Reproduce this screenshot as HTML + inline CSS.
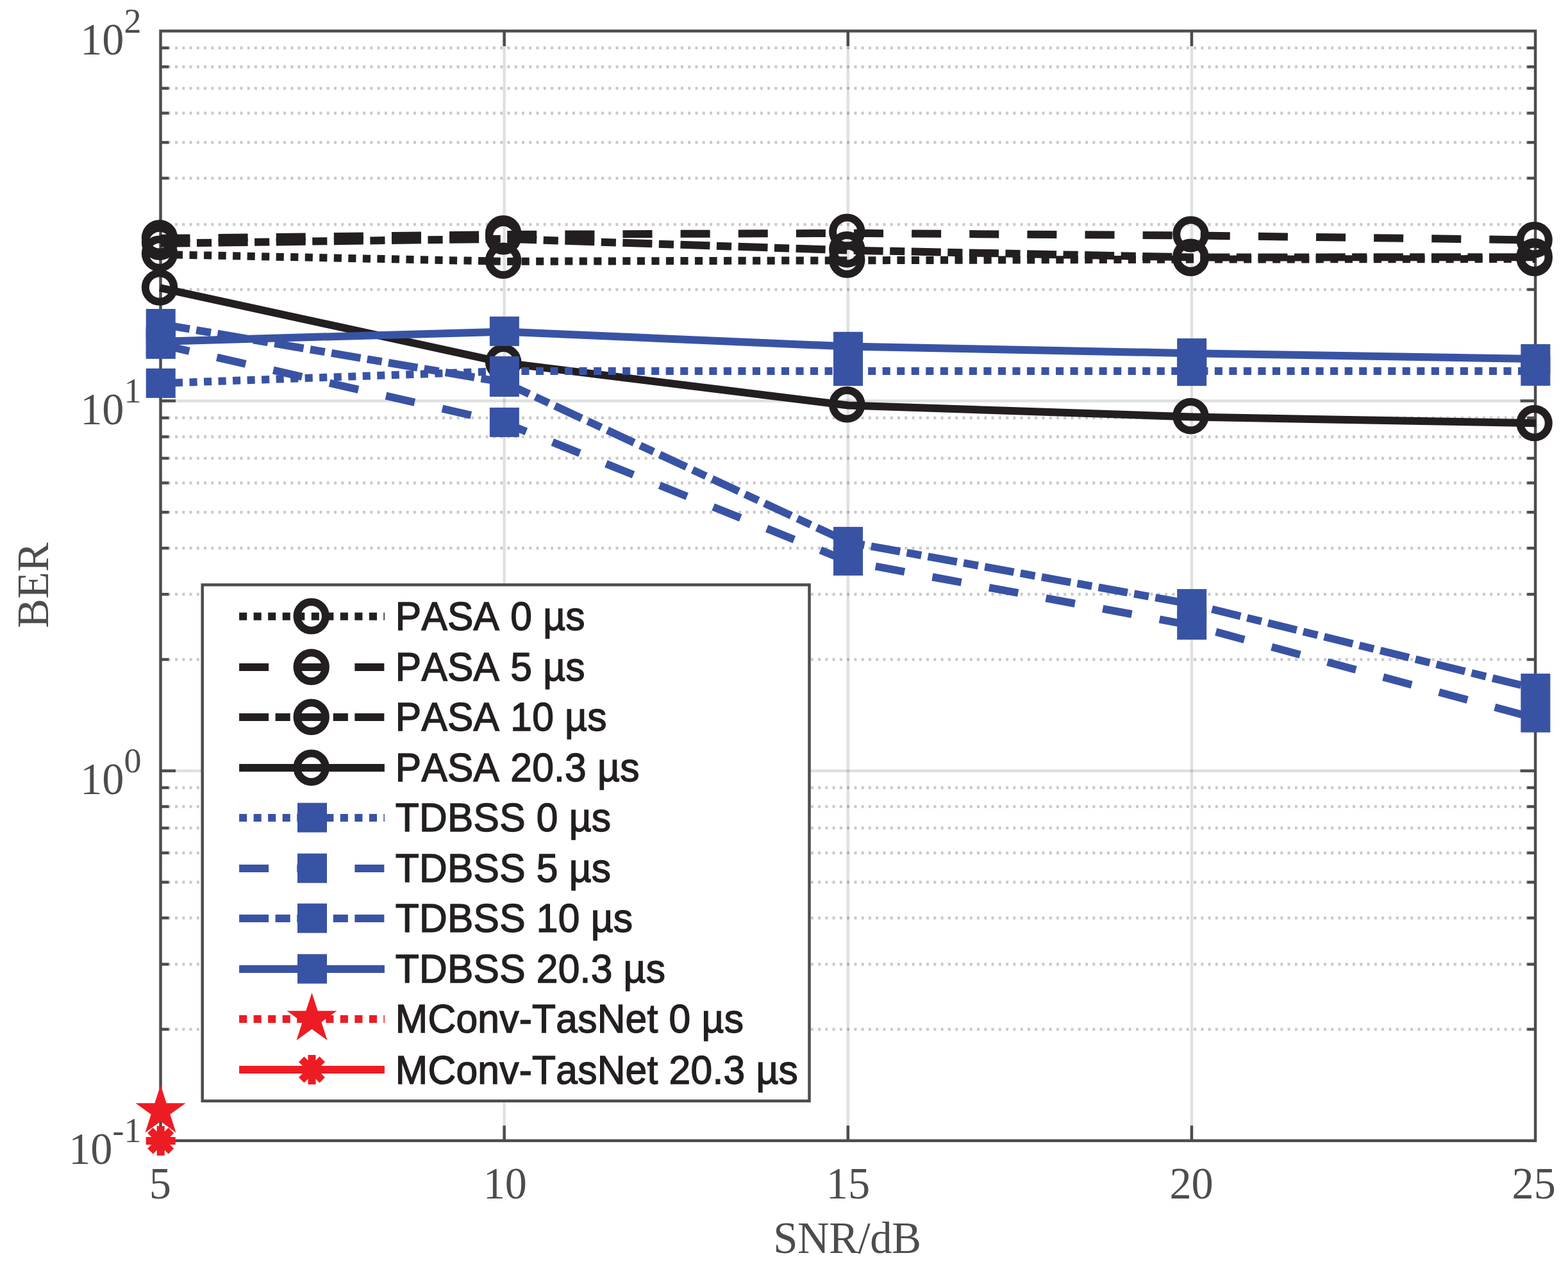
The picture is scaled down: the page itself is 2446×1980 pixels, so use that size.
<!DOCTYPE html>
<html lang="en">
<head>
<meta charset="utf-8">
<title>BER vs SNR</title>
<style>html,body{margin:0;padding:0;background:#fff;width:2446px;height:1980px}svg{display:block}</style>
</head>
<body>
<svg width="2446" height="1980" viewBox="0 0 2446 1980" role="img" aria-label="BER versus SNR/dB">
<rect x="0" y="0" width="2446" height="1980" fill="#ffffff"/>
<g fill="none" stroke="#282c32" stroke-opacity="0.15" stroke-width="4.5">
<path d="M786.65 48.40V1779.80"/>
<path d="M1322.80 48.40V1779.80"/>
<path d="M1858.95 48.40V1779.80"/>
<path d="M250.50 625.53H2395.10"/>
<path d="M250.50 1202.67H2395.10"/>
</g>
<g fill="none" stroke="#1c1c24" stroke-opacity="0.24" stroke-width="4.5" stroke-dasharray="4 7.27">
<path d="M250.50 451.80H2395.10"/>
<path d="M250.50 350.17H2395.10"/>
<path d="M250.50 278.06H2395.10"/>
<path d="M250.50 222.13H2395.10"/>
<path d="M250.50 176.44H2395.10"/>
<path d="M250.50 137.80H2395.10"/>
<path d="M250.50 104.33H2395.10"/>
<path d="M250.50 74.81H2395.10"/>
<path d="M250.50 1028.93H2395.10"/>
<path d="M250.50 927.30H2395.10"/>
<path d="M250.50 855.20H2395.10"/>
<path d="M250.50 799.27H2395.10"/>
<path d="M250.50 753.57H2395.10"/>
<path d="M250.50 714.93H2395.10"/>
<path d="M250.50 681.46H2395.10"/>
<path d="M250.50 651.94H2395.10"/>
<path d="M250.50 1606.07H2395.10"/>
<path d="M250.50 1504.44H2395.10"/>
<path d="M250.50 1432.33H2395.10"/>
<path d="M250.50 1376.40H2395.10"/>
<path d="M250.50 1330.70H2395.10"/>
<path d="M250.50 1292.07H2395.10"/>
<path d="M250.50 1258.60H2395.10"/>
<path d="M250.50 1229.07H2395.10"/>
</g>
<g fill="none" stroke="#4d4d4f" stroke-width="4.5">
<path d="M786.65 1779.80v-23.5M786.65 48.40v23.5"/>
<path d="M1322.80 1779.80v-23.5M1322.80 48.40v23.5"/>
<path d="M1858.95 1779.80v-23.5M1858.95 48.40v23.5"/>
<path d="M250.50 625.53h23.5M2395.10 625.53h-23.5"/>
<path d="M250.50 1202.67h23.5M2395.10 1202.67h-23.5"/>
<path d="M250.50 451.80h12.9M2395.10 451.80h-12.9"/>
<path d="M250.50 350.17h12.9M2395.10 350.17h-12.9"/>
<path d="M250.50 278.06h12.9M2395.10 278.06h-12.9"/>
<path d="M250.50 222.13h12.9M2395.10 222.13h-12.9"/>
<path d="M250.50 176.44h12.9M2395.10 176.44h-12.9"/>
<path d="M250.50 137.80h12.9M2395.10 137.80h-12.9"/>
<path d="M250.50 104.33h12.9M2395.10 104.33h-12.9"/>
<path d="M250.50 74.81h12.9M2395.10 74.81h-12.9"/>
<path d="M250.50 1028.93h12.9M2395.10 1028.93h-12.9"/>
<path d="M250.50 927.30h12.9M2395.10 927.30h-12.9"/>
<path d="M250.50 855.20h12.9M2395.10 855.20h-12.9"/>
<path d="M250.50 799.27h12.9M2395.10 799.27h-12.9"/>
<path d="M250.50 753.57h12.9M2395.10 753.57h-12.9"/>
<path d="M250.50 714.93h12.9M2395.10 714.93h-12.9"/>
<path d="M250.50 681.46h12.9M2395.10 681.46h-12.9"/>
<path d="M250.50 651.94h12.9M2395.10 651.94h-12.9"/>
<path d="M250.50 1606.07h12.9M2395.10 1606.07h-12.9"/>
<path d="M250.50 1504.44h12.9M2395.10 1504.44h-12.9"/>
<path d="M250.50 1432.33h12.9M2395.10 1432.33h-12.9"/>
<path d="M250.50 1376.40h12.9M2395.10 1376.40h-12.9"/>
<path d="M250.50 1330.70h12.9M2395.10 1330.70h-12.9"/>
<path d="M250.50 1292.07h12.9M2395.10 1292.07h-12.9"/>
<path d="M250.50 1258.60h12.9M2395.10 1258.60h-12.9"/>
<path d="M250.50 1229.07h12.9M2395.10 1229.07h-12.9"/>
<rect x="250.50" y="48.40" width="2144.60" height="1731.40"/>
</g>
<path d="M250.50 397.00L786.65 407.90L1322.80 406.30L1858.95 404.60L2395.10 404.00" fill="none" stroke="#231f20" stroke-width="12.0" stroke-linejoin="round" stroke-dasharray="12.1 10.43"/>
<path d="M250.50 371.90L786.65 366.00L1322.80 363.80L1858.95 367.40L2395.10 374.50" fill="none" stroke="#231f20" stroke-width="12.0" stroke-linejoin="round" stroke-dasharray="46 44.13"/>
<path d="M250.50 379.80L786.65 372.60L1322.80 390.50L1858.95 401.50L2395.10 401.20" fill="none" stroke="#231f20" stroke-width="12.0" stroke-linejoin="round" stroke-dasharray="46 10.5 23.13 10.5"/>
<path d="M249.40 449.06L786.65 566.10L1322.80 632.50L1858.95 650.50L2396.20 660.32" fill="none" stroke="#231f20" stroke-width="12.0" stroke-linejoin="round"/>
<circle cx="249.00" cy="395.60" r="22.2" fill="none" stroke="#231f20" stroke-width="12.0"/>
<circle cx="785.15" cy="406.70" r="22.2" fill="none" stroke="#231f20" stroke-width="12.0"/>
<circle cx="1321.30" cy="405.50" r="22.2" fill="none" stroke="#231f20" stroke-width="12.0"/>
<circle cx="1857.45" cy="402.90" r="22.2" fill="none" stroke="#231f20" stroke-width="12.0"/>
<circle cx="2393.60" cy="402.80" r="22.2" fill="none" stroke="#231f20" stroke-width="12.0"/>
<circle cx="249.00" cy="371.20" r="22.2" fill="none" stroke="#231f20" stroke-width="12.0"/>
<circle cx="785.15" cy="364.20" r="22.2" fill="none" stroke="#231f20" stroke-width="12.0"/>
<circle cx="1321.30" cy="361.60" r="22.2" fill="none" stroke="#231f20" stroke-width="12.0"/>
<circle cx="1857.45" cy="365.40" r="22.2" fill="none" stroke="#231f20" stroke-width="12.0"/>
<circle cx="2393.60" cy="374.20" r="22.2" fill="none" stroke="#231f20" stroke-width="12.0"/>
<circle cx="249.00" cy="377.90" r="22.2" fill="none" stroke="#231f20" stroke-width="12.0"/>
<circle cx="785.15" cy="369.30" r="22.2" fill="none" stroke="#231f20" stroke-width="12.0"/>
<circle cx="1321.30" cy="389.20" r="22.2" fill="none" stroke="#231f20" stroke-width="12.0"/>
<circle cx="1857.45" cy="400.60" r="22.2" fill="none" stroke="#231f20" stroke-width="12.0"/>
<circle cx="2393.60" cy="399.90" r="22.2" fill="none" stroke="#231f20" stroke-width="12.0"/>
<circle cx="249.00" cy="448.50" r="22.2" fill="none" stroke="#231f20" stroke-width="12.0"/>
<circle cx="785.15" cy="565.30" r="22.2" fill="none" stroke="#231f20" stroke-width="12.0"/>
<circle cx="1321.30" cy="631.30" r="22.2" fill="none" stroke="#231f20" stroke-width="12.0"/>
<circle cx="1857.45" cy="649.30" r="22.2" fill="none" stroke="#231f20" stroke-width="12.0"/>
<circle cx="2393.60" cy="660.20" r="22.2" fill="none" stroke="#231f20" stroke-width="12.0"/>
<path d="M250.50 598.00L786.65 579.00L1322.80 579.05L1858.95 579.05L2395.10 579.10" fill="none" stroke="#3953a4" stroke-width="12.0" stroke-linejoin="round" stroke-dasharray="12.1 10.43"/>
<path d="M250.50 537.60L786.65 659.60L1322.80 875.70L1858.95 975.70L2395.10 1120.60" fill="none" stroke="#3953a4" stroke-width="12.0" stroke-linejoin="round" stroke-dasharray="46 44.13"/>
<path d="M250.50 505.70L786.65 596.60L1322.80 845.80L1858.95 942.70L2395.10 1074.50" fill="none" stroke="#3953a4" stroke-width="12.0" stroke-linejoin="round" stroke-dasharray="46 10.5 23.13 10.5"/>
<path d="M249.40 532.78L786.65 517.50L1322.80 540.60L1858.95 551.20L2396.20 560.02" fill="none" stroke="#3953a4" stroke-width="12.0" stroke-linejoin="round"/>
<rect x="227.75" y="574.90" width="46.0" height="46.0" fill="#3953a4"/>
<rect x="763.90" y="555.90" width="46.0" height="46.0" fill="#3953a4"/>
<rect x="1300.05" y="556.10" width="46.0" height="46.0" fill="#3953a4"/>
<rect x="1836.20" y="556.10" width="46.0" height="46.0" fill="#3953a4"/>
<rect x="2372.35" y="555.90" width="46.0" height="46.0" fill="#3953a4"/>
<rect x="227.75" y="513.90" width="46.0" height="46.0" fill="#3953a4"/>
<rect x="763.90" y="635.95" width="46.0" height="46.0" fill="#3953a4"/>
<rect x="1300.05" y="852.05" width="46.0" height="46.0" fill="#3953a4"/>
<rect x="1836.20" y="952.05" width="46.0" height="46.0" fill="#3953a4"/>
<rect x="2372.35" y="1096.75" width="46.0" height="46.0" fill="#3953a4"/>
<rect x="227.75" y="482.00" width="46.0" height="46.0" fill="#3953a4"/>
<rect x="763.90" y="573.00" width="46.0" height="46.0" fill="#3953a4"/>
<rect x="1300.05" y="822.10" width="46.0" height="46.0" fill="#3953a4"/>
<rect x="1836.20" y="919.10" width="46.0" height="46.0" fill="#3953a4"/>
<rect x="2372.35" y="1051.05" width="46.0" height="46.0" fill="#3953a4"/>
<rect x="227.75" y="509.00" width="46.0" height="46.0" fill="#3953a4"/>
<rect x="763.90" y="493.90" width="46.0" height="46.0" fill="#3953a4"/>
<rect x="1300.05" y="517.80" width="46.0" height="46.0" fill="#3953a4"/>
<rect x="1836.20" y="528.00" width="46.0" height="46.0" fill="#3953a4"/>
<rect x="2372.35" y="537.00" width="46.0" height="46.0" fill="#3953a4"/>
<polygon points="250.50,1693.00 259.70,1721.33 289.49,1721.33 265.39,1738.84 274.60,1767.17 250.50,1749.66 226.40,1767.17 235.61,1738.84 211.51,1721.33 241.30,1721.33" fill="#ed1c24"/>
<path d="M250.70 1757.00V1803.00M227.70 1780.00H273.70M234.44 1763.74L266.96 1796.26M234.44 1796.26L266.96 1763.74" fill="none" stroke="#ed1c24" stroke-width="12.0"/>
<rect x="315.7" y="912.5" width="946.80" height="805.30" fill="#ffffff" stroke="#4d4d4f" stroke-width="4.5"/>
<path d="M373.1 961.80H599.9" fill="none" stroke="#231f20" stroke-width="12.0" stroke-dasharray="12.1 10.43"/>
<circle cx="485.70" cy="961.50" r="22.2" fill="none" stroke="#231f20" stroke-width="12.0"/>
<path d="M373.1 1041.00H599.9" fill="none" stroke="#231f20" stroke-width="12.0" stroke-dasharray="46 44.13"/>
<circle cx="485.70" cy="1040.70" r="22.2" fill="none" stroke="#231f20" stroke-width="12.0"/>
<path d="M373.1 1119.00H599.9" fill="none" stroke="#231f20" stroke-width="12.0" stroke-dasharray="46 10.5 23.13 10.5"/>
<circle cx="485.70" cy="1118.70" r="22.2" fill="none" stroke="#231f20" stroke-width="12.0"/>
<path d="M373.1 1198.00H599.9" fill="none" stroke="#231f20" stroke-width="12.0"/>
<circle cx="485.70" cy="1197.70" r="22.2" fill="none" stroke="#231f20" stroke-width="12.0"/>
<path d="M373.1 1276.00H599.9" fill="none" stroke="#3953a4" stroke-width="12.0" stroke-dasharray="12.1 10.43"/>
<rect x="464.00" y="1252.70" width="46.0" height="46.0" fill="#3953a4"/>
<path d="M373.1 1355.00H599.9" fill="none" stroke="#3953a4" stroke-width="12.0" stroke-dasharray="46 44.13"/>
<rect x="464.00" y="1331.70" width="46.0" height="46.0" fill="#3953a4"/>
<path d="M373.1 1433.00H599.9" fill="none" stroke="#3953a4" stroke-width="12.0" stroke-dasharray="46 10.5 23.13 10.5"/>
<rect x="464.00" y="1409.70" width="46.0" height="46.0" fill="#3953a4"/>
<path d="M373.1 1512.00H599.9" fill="none" stroke="#3953a4" stroke-width="12.0"/>
<rect x="464.00" y="1488.70" width="46.0" height="46.0" fill="#3953a4"/>
<path d="M373.1 1590.00H599.9" fill="none" stroke="#ed1c24" stroke-width="12.0" stroke-dasharray="12.1 10.43"/>
<polygon points="486.50,1549.00 495.70,1577.33 525.49,1577.33 501.39,1594.84 510.60,1623.17 486.50,1605.66 462.40,1623.17 471.61,1594.84 447.51,1577.33 477.30,1577.33" fill="#ed1c24"/>
<path d="M373.1 1669.10H599.9" fill="none" stroke="#ed1c24" stroke-width="12.0"/>
<path d="M486.50 1646.10V1692.10M470.24 1652.84L502.76 1685.36M470.24 1685.36L502.76 1652.84" fill="none" stroke="#ed1c24" stroke-width="12.0"/>
<g font-family="'Liberation Sans', Arial, Helvetica, sans-serif" font-size="60.5" fill="#231f20" stroke="#231f20" stroke-width="1.4" letter-spacing="0.25" style="font-kerning:none">
<text transform="translate(616.8 983.20) scale(1 1.04)">PASA 0 µs</text>
<text transform="translate(616.8 1062.40) scale(1 1.04)">PASA 5 µs</text>
<text transform="translate(616.8 1140.40) scale(1 1.04)">PASA 10 µs</text>
<text transform="translate(616.8 1219.40) scale(1 1.04)">PASA 20.3 µs</text>
<text transform="translate(616.8 1297.40) scale(1 1.04)">TDBSS 0 µs</text>
<text transform="translate(616.8 1376.40) scale(1 1.04)">TDBSS 5 µs</text>
<text transform="translate(616.8 1454.40) scale(1 1.04)">TDBSS 10 µs</text>
<text transform="translate(616.8 1533.40) scale(1 1.04)">TDBSS 20.3 µs</text>
<text transform="translate(616.8 1611.40) scale(1 1.04)">MConv-TasNet 0 µs</text>
<text transform="translate(616.8 1690.50) scale(1 1.04)">MConv-TasNet 20.3 µs</text>
</g>
<g font-family="'Liberation Serif', 'Times New Roman', Times, serif" font-size="68.3" fill="#4d4d4f" stroke="#4d4d4f" stroke-width="0" style="font-kerning:none">
<text transform="translate(249.90 1870.0) scale(1 1.02)" text-anchor="middle">5</text>
<text transform="translate(787.85 1870.0) scale(1 1.02)" text-anchor="middle">10</text>
<text transform="translate(1323.00 1870.0) scale(1 1.02)" text-anchor="middle">15</text>
<text transform="translate(1858.55 1870.0) scale(1 1.02)" text-anchor="middle">20</text>
<text transform="translate(2392.70 1870.0) scale(1 1.02)" text-anchor="middle">25</text>
<text transform="translate(220.5 85.00) scale(1 1.02)" text-anchor="end">10<tspan font-size="54.0" dy="-33.6">2</tspan></text>
<text transform="translate(220.5 662.13) scale(1 1.02)" text-anchor="end">10<tspan font-size="54.0" dy="-33.6">1</tspan></text>
<text transform="translate(220.5 1239.27) scale(1 1.02)" text-anchor="end">10<tspan font-size="54.0" dy="-33.6">0</tspan></text>
<text transform="translate(220.5 1816.40) scale(1 1.02)" text-anchor="end">10<tspan font-size="54.0" dy="-33.6">-1</tspan></text>
<text transform="translate(1321.4 1954.5) scale(1 1.02)" font-size="68.7" letter-spacing="-0.4" text-anchor="middle">SNR/dB</text>
<text transform="translate(74.7 913.2) rotate(-90) scale(1 1.02)" font-size="68.7" text-anchor="middle">BER</text>
</g>
</svg>
</body>
</html>
